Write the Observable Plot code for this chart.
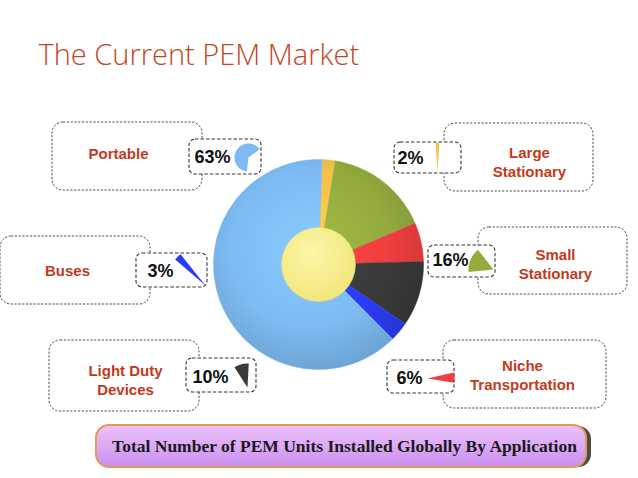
<!DOCTYPE html>
<html>
<head>
<meta charset="utf-8">
<script src="https://cdn.jsdelivr.net/npm/d3@7"></script>
<script src="https://cdn.jsdelivr.net/npm/@observablehq/plot@0.6"></script>
<style>
  html, body { margin: 0; padding: 0; background: #fff; overflow: hidden; }
  svg { display: block; }
</style>
</head>
<body>
<div id="chart"></div>
<script>
// ---------- data ----------
const title = "The Current PEM Market";
const caption = "Total Number of PEM Units Installed Globally By Application";
const categories = ["Large Stationary", "Small Stationary", "Niche Transportation", "Light Duty Devices", "Buses", "Portable"];
const labelLines = ["Large\nStationary", "Small\nStationary", "Niche\nTransportation", "Light Duty\nDevices", "Buses", "Portable"];
const shares = [2, 16, 6, 10, 3, 63];
const pctLabels = ["2%", "16%", "6%", "10%", "3%", "63%"];

// ---------- styles / layout (not data) ----------
const colors = ["#F4C247", "#94AC3E", "#F03F3F", "#3A3A3A", "#2A3CF5", "#7DBBF2"];
const pie = {cx: 318, cy: 264, r: 105, hole: 37, start: 2};
// big label boxes [x1, x2, y1, y2, textX, textY]
const bigBoxes = [
  [444, 593, 123, 191, 529, 161],
  [478, 627, 227, 294, 555, 262.5],
  [443, 606, 340, 408, 522, 374],
  [49, 199, 340, 411, 125, 379],
  [0, 150, 236, 304, 67, 269],
  [52, 202, 122, 190, 118, 152]
];
// percentage boxes [x1, x2, y1, y2, textX, textY]
const pctBoxes = [
  [394, 461, 142, 173, 397, 158],
  [428, 495, 245, 277, 432, 260],
  [387, 454, 360, 393, 396, 378],
  [186, 256, 358, 392, 192, 377],
  [136, 207, 253, 287, 147, 271],
  [189, 261, 139, 174, 194, 157]
];
// icon wedges [apexX, apexY, radius, bisector angle (deg, clockwise from north)]
const icons = [
  [437, 172, 30, 0],
  [493, 269, 25, 293],
  [427, 378, 27, 88],
  [247, 387, 24, 345],
  [205, 285, 40, 316],
  [248, 157, 14, 300]
];

const rad = Math.PI / 180;
function wedge(cx, cy, r, a0, a1, key) {
  const n = Math.max(2, Math.ceil(Math.abs(a1 - a0) / rad));
  const pts = [{key, x: cx, y: cy}];
  for (let i = 0; i <= n; i++) {
    const a = a0 + (a1 - a0) * i / n;
    pts.push({key, x: cx + r * Math.sin(a), y: cy - r * Math.cos(a)});
  }
  pts.push({key, x: cx, y: cy});
  return pts;
}

const arcs = d3.pie().sort(null).value(d => d)
  .startAngle(pie.start * rad).endAngle(pie.start * rad + 2 * Math.PI)(shares);

// defs with gradients
const defsMark = () => {
  const defs = d3.create("svg:defs");
  colors.forEach((c, i) => {
    const g = defs.append("radialGradient").attr("id", "pg" + i)
      .attr("gradientUnits", "userSpaceOnUse")
      .attr("cx", pie.cx - 10).attr("cy", pie.cy - 15).attr("r", pie.r + 15);
    g.append("stop").attr("offset", "0%").attr("stop-color", d3.color(c).brighter(0.25).formatHex());
    g.append("stop").attr("offset", "65%").attr("stop-color", c);
    g.append("stop").attr("offset", "100%").attr("stop-color", d3.color(c).darker(0.35).formatHex());
  });
  const gc = defs.append("radialGradient").attr("id", "pgc").attr("cx", "40%").attr("cy", "35%").attr("r", "70%");
  gc.append("stop").attr("offset", "0%").attr("stop-color", "#FCF6A8");
  gc.append("stop").attr("offset", "100%").attr("stop-color", "#F1E67A");
  const gb = defs.append("linearGradient").attr("id", "banner").attr("x1", 0).attr("y1", 0).attr("x2", 0).attr("y2", 1);
  gb.append("stop").attr("offset", "0%").attr("stop-color", "#EBC2FA");
  gb.append("stop").attr("offset", "50%").attr("stop-color", "#DCA9F6");
  gb.append("stop").attr("offset", "100%").attr("stop-color", "#C88EEC");
  return defs.node();
};

const marks = [defsMark];

// big boxes
marks.push(Plot.rect(bigBoxes, {
  x1: d => d[0], x2: d => d[1], y1: d => d[2], y2: d => d[3],
  rx: 11, fill: "white", stroke: "#4a4a4a", strokeWidth: 1, strokeDasharray: "2.2,1.6"
}));
marks.push(Plot.text(labelLines.map((t, i) => ({t, x: bigBoxes[i][4], y: bigBoxes[i][5]})), {
  x: "x", y: "y", text: "t", fill: "#C23A1C", fontSize: 15, fontWeight: "bold",
  fontFamily: "Liberation Sans, Arial, sans-serif", lineHeight: 1.27, textAnchor: "middle"
}));
// percentage boxes
marks.push(Plot.rect(pctBoxes, {
  x1: d => d[0], x2: d => d[1], y1: d => d[2], y2: d => d[3],
  rx: 6, fill: "white", stroke: "#333", strokeWidth: 1.1, strokeDasharray: "3.5,2"
}));
marks.push(Plot.text(pctLabels.map((t, i) => ({t, x: pctBoxes[i][4], y: pctBoxes[i][5]})), {
  x: "x", y: "y", text: "t", fill: "#111", fontSize: 18, fontWeight: "bold",
  fontFamily: "Liberation Sans, Arial, sans-serif", textAnchor: "start"
}));
// icons
shares.forEach((s, i) => {
  const [ax, ay, r, b] = icons[i];
  const span = s * 3.6;
  marks.push(Plot.line(wedge(ax, ay, r, (b - span / 2) * rad, (b + span / 2) * rad, categories[i]), {
    x: "x", y: "y", fill: colors[i], stroke: "none"
  }));
});
// main pie
arcs.forEach((a, i) => {
  marks.push(Plot.line(wedge(pie.cx, pie.cy, pie.r, a.startAngle, a.endAngle, categories[i]), {
    x: "x", y: "y", fill: `url(#pg${i})`, stroke: colors[i], strokeWidth: 0.5
  }));
});
marks.push(Plot.dot([{x: pie.cx, y: pie.cy}], {x: "x", y: "y", r: pie.hole, fill: "url(#pgc)", stroke: "#E8DC70", strokeWidth: 0.5}));

// title
marks.push(Plot.text([title], {
  x: () => 38, y: () => 55, text: d => d, textAnchor: "start", fill: "#C2461F",
  fontSize: 29, fontWeight: 300, fontFamily: "Open Sans, Lato, sans-serif"
}));
// caption banner
marks.push(Plot.rect([caption], {x1: () => 100, x2: () => 591, y1: () => 426, y2: () => 467, rx: 13, fill: "#4b4b4b"}));
marks.push(Plot.rect([caption], {x1: () => 96, x2: () => 586, y1: () => 425, y2: () => 467, rx: 13, fill: "url(#banner)", stroke: "#E59A55", strokeWidth: 2}));
marks.push(Plot.text([caption], {
  x: () => 344, y: () => 446, text: d => d, fill: "#1a1a1a", fontSize: 17.5, fontWeight: "bold",
  fontFamily: "Liberation Serif, Times New Roman, serif"
}));

const chart = Plot.plot({
  width: 638, height: 478, margin: 0,
  x: {domain: [0, 638], range: [0, 638], axis: null},
  y: {domain: [0, 478], range: [0, 478], axis: null},
  style: {background: "white", overflow: "visible"},
  marks
});
document.getElementById("chart").appendChild(chart);
</script>
</body>
</html>
